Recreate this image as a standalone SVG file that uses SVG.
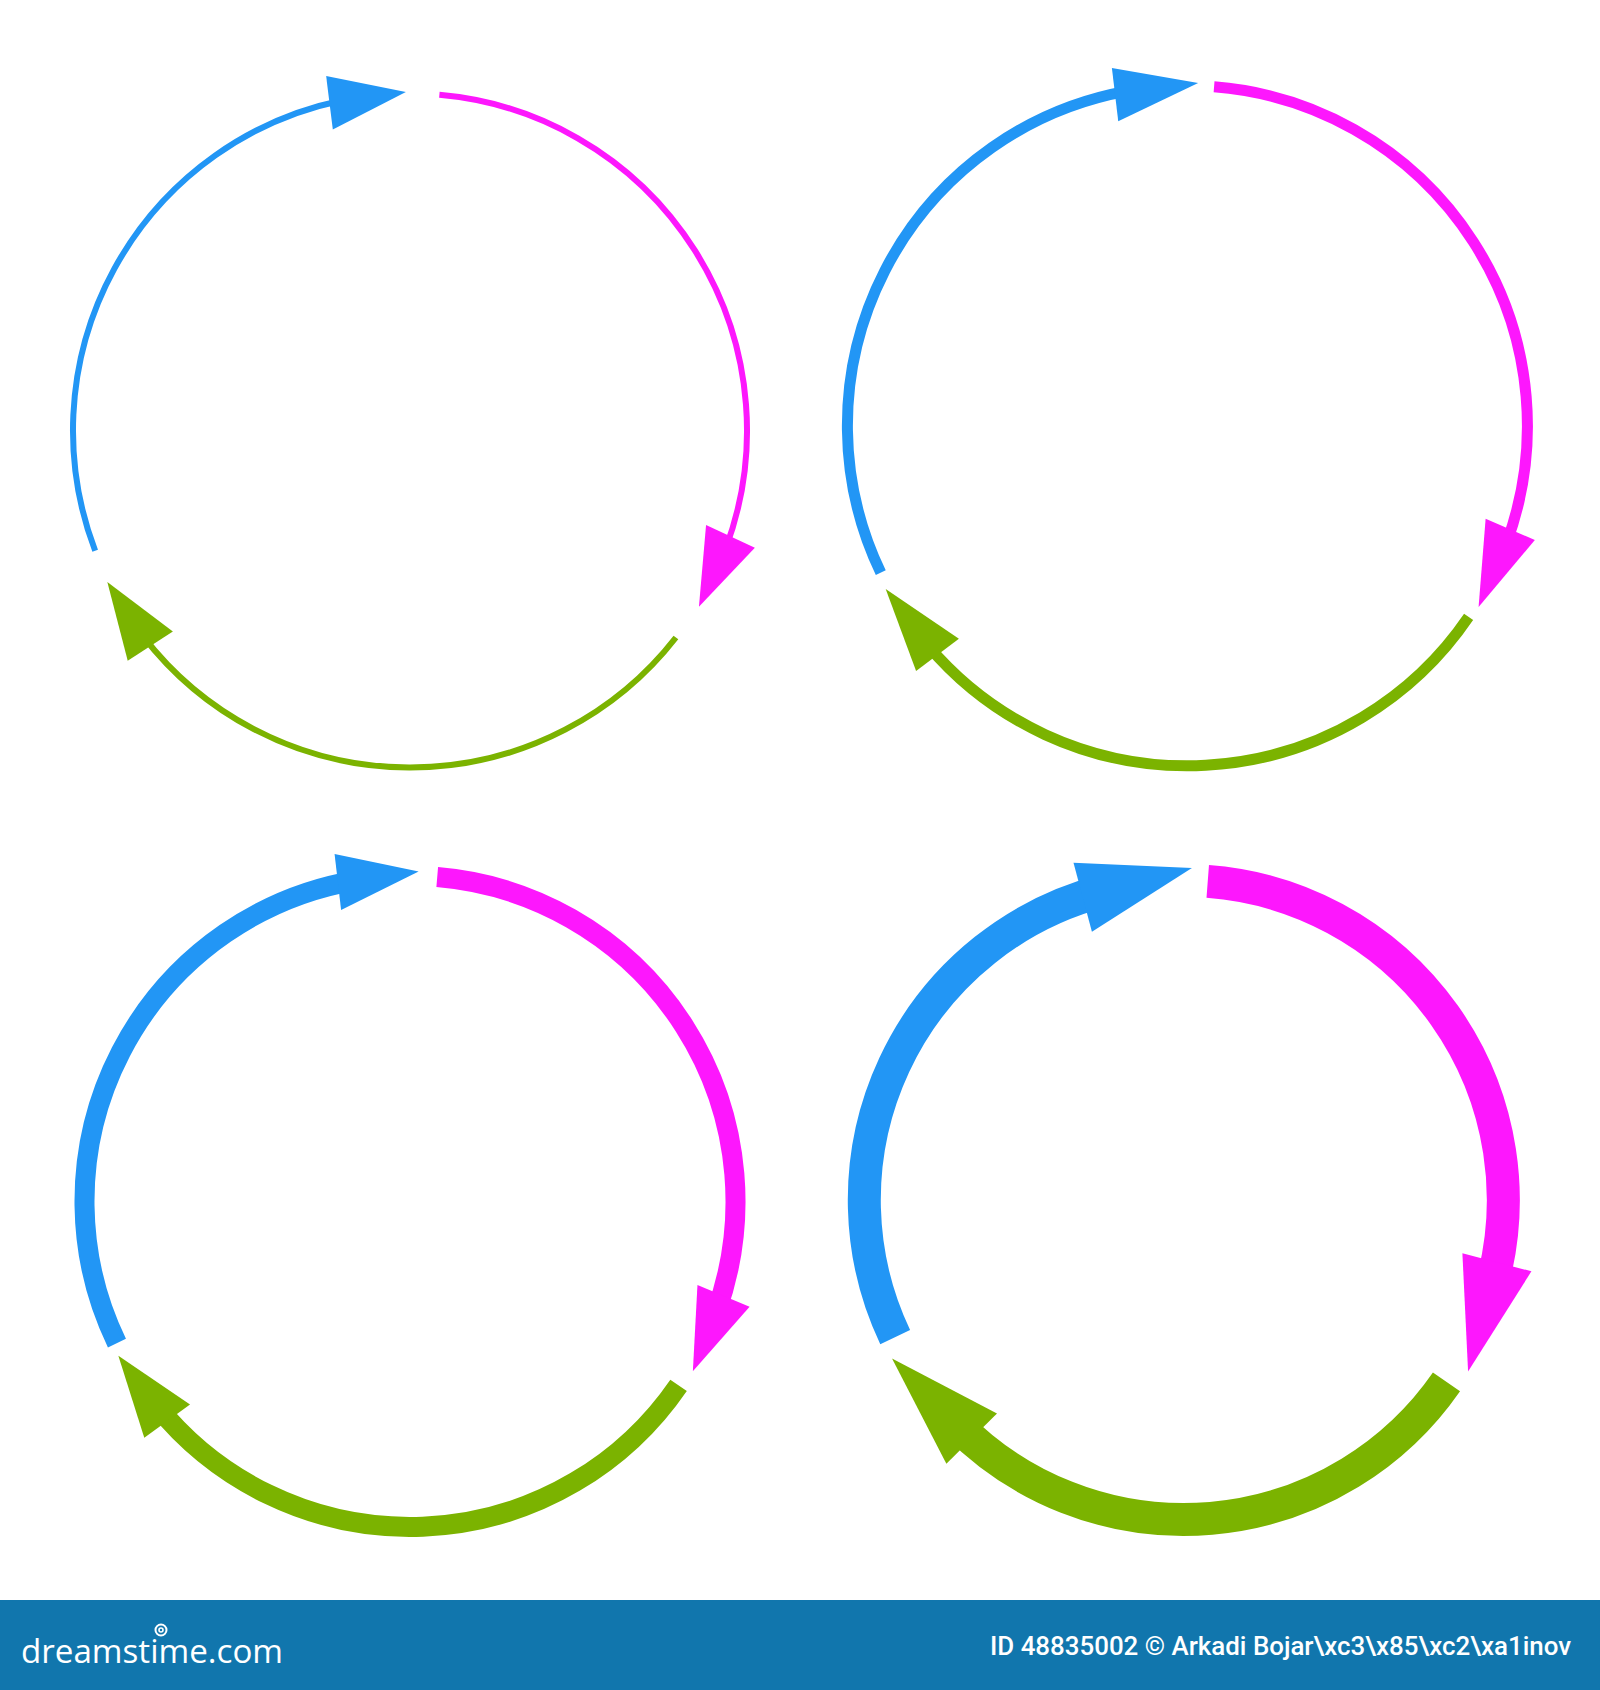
<svg xmlns="http://www.w3.org/2000/svg" width="1600" height="1690" viewBox="0 0 1600 1690">
<style>
.arc{fill:none;stroke-linecap:butt}
.blue .arc{stroke:#2296f5}.blue polygon{fill:#2296f5}
.mag .arc{stroke:#fd17fd}.mag polygon{fill:#fd17fd}
.grn .arc{stroke:#7bb300}.grn polygon{fill:#7bb300}
.c1 .arc{stroke-width:6}.c2 .arc{stroke-width:11}.c3 .arc{stroke-width:20}.c4 .arc{stroke-width:33}
.lbl{fill:#ffffff}
</style>
<rect width="1600" height="1690" fill="#ffffff"/>

<g id="cycle1" class="c1" transform="translate(410,430.5)">
  <g id="c1-blue" class="blue" transform="rotate(359.3)">
    <path class="arc" d="M-316.27,116.37 A337,337 0 0 1 -64.30,-330.81"/>
    <polygon points="0,-338.5 -79.5,-355.5 -73.5,-302"/>
  </g>
  <g id="c1-magenta" class="mag" transform="rotate(121.4)">
    <path class="arc" d="M-301.85,149.84 A337,337 0 0 1 -64.30,-330.81"/>
    <polygon points="0,-338.5 -79.5,-355.5 -73.5,-302"/>
  </g>
  <g id="c1-green" class="grn" transform="rotate(243.4)">
    <path class="arc" d="M-304.17,145.08 A337,337 0 0 1 -64.30,-330.81"/>
    <polygon points="0,-338.5 -79.5,-355.5 -73.5,-302"/>
  </g>
</g>

<g id="cycle2" class="c2" transform="translate(1187.4,425.8)">
  <g id="c2-blue" class="blue" transform="rotate(1.8)">
    <path class="arc" d="M-301.86,156.47 A340,340 0 0 1 -70.69,-332.57"/>
    <polygon points="0,-343 -86.7,-355.3 -78.7,-302.3"/>
  </g>
  <g id="c2-magenta" class="mag" transform="rotate(121.9)">
    <path class="arc" d="M-301.86,156.47 A340,340 0 0 1 -70.69,-332.57"/>
    <polygon points="0,-343 -86.7,-355.3 -78.7,-302.3"/>
  </g>
  <g id="c2-green" class="grn" transform="rotate(241.6)">
    <path class="arc" d="M-301.86,156.47 A340,340 0 0 1 -70.69,-332.57"/>
    <polygon points="0,-343 -86.7,-355.3 -78.7,-302.3"/>
  </g>
</g>

<g id="cycle3" class="c3" transform="translate(410,1201.4)">
  <g id="c3-blue" class="blue" transform="rotate(1.5)">
    <path class="arc" d="M-289.25,149.29 A325.5,325.5 0 0 1 -62.11,-319.52"/>
    <polygon points="0,-330 -84.5,-345.4 -76.5,-289.4"/>
  </g>
  <g id="c3-magenta" class="mag" transform="rotate(121)">
    <path class="arc" d="M-292.06,143.71 A325.5,325.5 0 0 1 -62.11,-319.52"/>
    <polygon points="0,-330 -84.5,-345.4 -76.5,-289.4"/>
  </g>
  <g id="c3-green" class="grn" transform="rotate(242.1)">
    <path class="arc" d="M-288.19,151.31 A325.5,325.5 0 0 1 -62.11,-319.52"/>
    <polygon points="0,-330 -84.5,-345.4 -76.5,-289.4"/>
  </g>
</g>

<g id="cycle4" class="c4" transform="translate(1183.8,1200)">
  <g id="c4-blue" class="blue" transform="rotate(1.4)">
    <path class="arc" d="M-285.18,144.06 A319.5,319.5 0 0 1 -88.07,-307.12"/>
    <polygon points="0,-332 -118.5,-334.5 -98.4,-266"/>
  </g>
  <g id="c4-magenta" class="mag" transform="rotate(121.1)">
    <path class="arc" d="M-285.18,144.06 A319.5,319.5 0 0 1 -88.07,-307.12"/>
    <polygon points="0,-332 -118.5,-334.5 -98.4,-266"/>
  </g>
  <g id="c4-green" class="grn" transform="rotate(241.5)">
    <path class="arc" d="M-285.18,144.06 A319.5,319.5 0 0 1 -88.07,-307.12"/>
    <polygon points="0,-332 -118.5,-334.5 -98.4,-266"/>
  </g>
</g>

<g id="footer">
  <rect x="0" y="1600" width="1600" height="90" fill="#1176ad"/>
  <text class="lbl" x="21" y="1663" font-family="'Open Sans', 'DejaVu Sans', sans-serif" font-size="32" textLength="262" lengthAdjust="spacingAndGlyphs">dreamstime.com</text>
  <circle cx="161" cy="1630" r="5.5" fill="none" stroke="#ffffff" stroke-width="2"/>
  <circle cx="161" cy="1630" r="2" fill="none" stroke="#ffffff" stroke-width="1.6"/>
  <text class="lbl" x="990" y="1655" font-family="Roboto, 'Liberation Sans', sans-serif" font-weight="500" font-size="25" textLength="581" lengthAdjust="spacingAndGlyphs">ID 48835002 © Arkadi Bojar\xc3\x85\xc2\xa1inov</text>
</g>
</svg>
